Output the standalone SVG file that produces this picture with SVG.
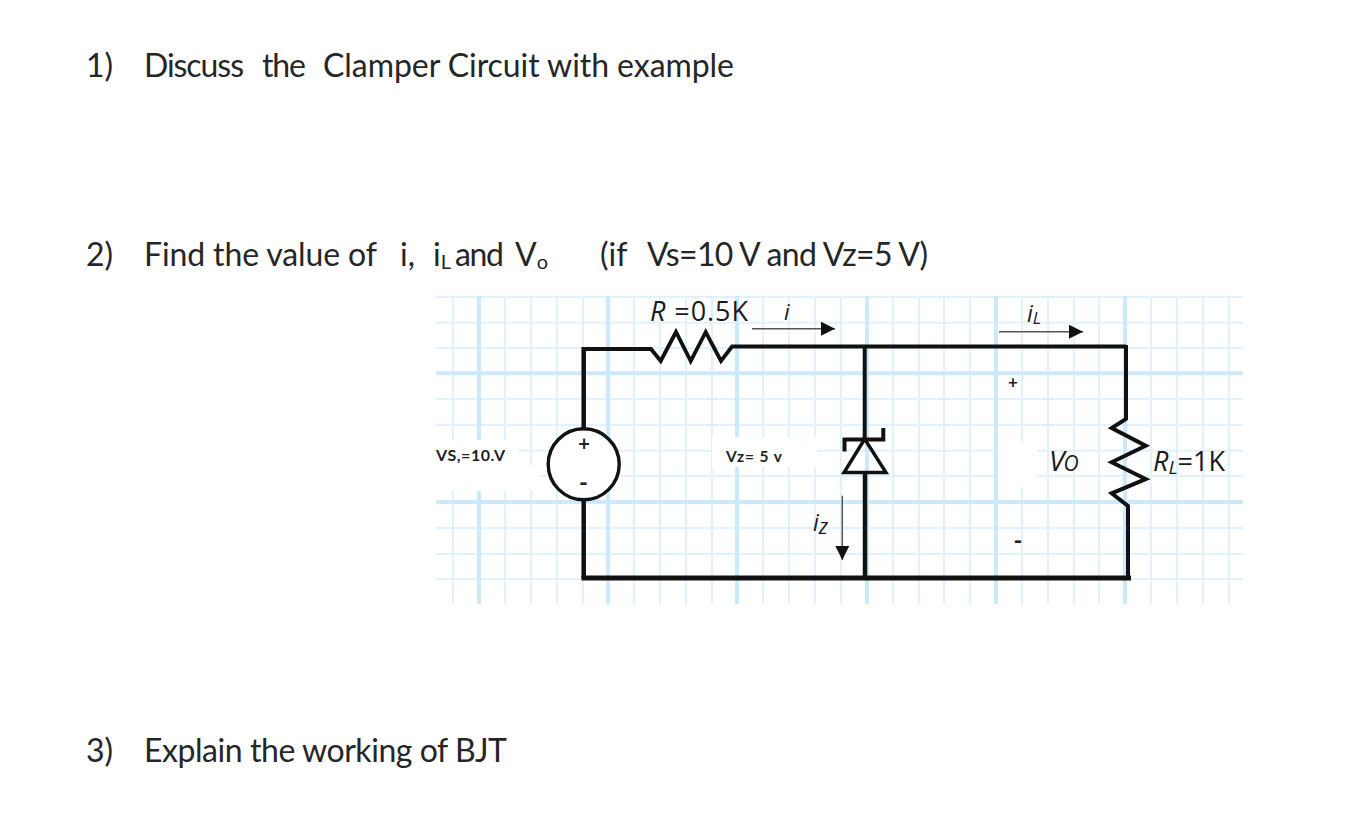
<svg xmlns="http://www.w3.org/2000/svg" width="1370" height="815" viewBox="0 0 1370 815">
<style>
.q{font-family:Lato,"Liberation Sans",sans-serif;font-size:32px;fill:#262626}
.c{font-family:"Open Sans","DejaVu Sans",sans-serif;fill:#1a1a1a}
.b{font-family:Lato,"Liberation Sans",sans-serif;font-weight:700;fill:#222}
.i{font-style:italic}
.g line{stroke:#dff2fd;stroke-width:2}
.t line{stroke:#cdeafd;stroke-width:4}
.w{fill:none;stroke:#111;stroke-linejoin:miter}
.a{stroke:#555;stroke-width:1.5;fill:none}
</style>
<defs>
<marker id="ah" markerUnits="userSpaceOnUse" markerWidth="14" markerHeight="14" refX="14" refY="7" orient="auto"><path d="M0 0L14 7L0 14Z" fill="#111"/></marker>
</defs>
<rect width="1370" height="815" fill="#fff"/>
<g id="questions">
<text class="q" x="86" y="77">1)</text>
<text class="q" x="144" y="77" textLength="100">Discuss</text>
<text class="q" x="262" y="77" textLength="44">the</text>
<text class="q" x="323" y="77" textLength="411">Clamper Circuit with example</text>
<text class="q" x="86" y="266">2)</text>
<text class="q" x="144" y="266" textLength="233">Find the value of</text>
<text class="q" x="400" y="266">i,</text>
<text class="q" x="433" y="266">i<tspan font-size="20" dy="3">L</tspan></text>
<text class="q" x="455" y="266" textLength="49">and</text>
<text class="q" x="515" y="266">V<tspan font-size="20" dy="3">o</tspan></text>
<text class="q" x="600" y="266">(if</text>
<text class="q" x="647" y="266" textLength="281">Vs=10 V and Vz=5 V)</text>
<text class="q" x="86" y="762">3)</text>
<text class="q" x="144" y="762" textLength="363">Explain the working of BJT</text>
</g>
<g id="grid">
<g class="g">
<line x1="436" x2="1243" y1="297" y2="297"/><line x1="436" x2="1243" y1="322.7" y2="322.7"/><line x1="436" x2="1243" y1="348" y2="348"/><line x1="436" x2="1243" y1="399" y2="399"/><line x1="436" x2="1243" y1="425" y2="425"/><line x1="436" x2="1243" y1="450.7" y2="450.7"/><line x1="436" x2="1243" y1="476" y2="476"/><line x1="436" x2="1243" y1="528" y2="528"/><line x1="436" x2="1243" y1="554" y2="554"/><line x1="436" x2="1243" y1="579" y2="579"/>
<line x1="453" x2="453" y1="296" y2="604"/><line x1="505" x2="505" y1="296" y2="604"/><line x1="531" x2="531" y1="296" y2="604"/><line x1="557" x2="557" y1="296" y2="604"/><line x1="583" x2="583" y1="296" y2="604"/><line x1="634" x2="634" y1="296" y2="604"/><line x1="660" x2="660" y1="296" y2="604"/><line x1="686" x2="686" y1="296" y2="604"/><line x1="712" x2="712" y1="296" y2="604"/><line x1="763" x2="763" y1="296" y2="604"/><line x1="789" x2="789" y1="296" y2="604"/><line x1="815" x2="815" y1="296" y2="604"/><line x1="841" x2="841" y1="296" y2="604"/><line x1="893" x2="893" y1="296" y2="604"/><line x1="919" x2="919" y1="296" y2="604"/><line x1="944" x2="944" y1="296" y2="604"/><line x1="970" x2="970" y1="296" y2="604"/><line x1="1022" x2="1022" y1="296" y2="604"/><line x1="1048" x2="1048" y1="296" y2="604"/><line x1="1074" x2="1074" y1="296" y2="604"/><line x1="1099" x2="1099" y1="296" y2="604"/><line x1="1151" x2="1151" y1="296" y2="604"/><line x1="1177" x2="1177" y1="296" y2="604"/><line x1="1203" x2="1203" y1="296" y2="604"/><line x1="1229" x2="1229" y1="296" y2="604"/>
</g>
<g class="t">
<line x1="436" x2="1243" y1="373.3" y2="373.3"/><line x1="436" x2="1243" y1="502" y2="502"/>
<line x1="479" x2="479" y1="296" y2="604"/><line x1="608" x2="608" y1="296" y2="604"/><line x1="737" x2="737" y1="296" y2="604"/><line x1="867" x2="867" y1="296" y2="604"/><line x1="996" x2="996" y1="296" y2="604"/><line x1="1125" x2="1125" y1="296" y2="604"/>
</g>
<path fill="#fff" d="M436 440H518V491H436ZM518 465H540V490H518ZM712 437H817V467H712ZM998 443H1037V487H998Z"/>
</g>
<g id="connectors">
<path class="w" stroke-width="3.8" d="M583.7 349H651L660.7 361L676 332L690.7 361L705.7 332L721 361L732 346.5H1126"/>
<path class="w" stroke-width="4" d="M1126 345V419L1111.7 428L1145.7 445.7L1111.7 462.3L1145.7 479L1111.7 493.3L1128 506V578"/>
<path class="w" stroke-width="4.5" d="M583.7 347V430M583.7 500V578"/>
<path class="w" stroke-width="4" d="M864.7 347V438"/>
<path class="w" stroke-width="4.5" d="M865 473V578"/>
<path class="w" stroke-width="5" d="M581.5 578H1131"/>
</g>
<g id="source">
<circle cx="583.7" cy="464.3" r="35.5" fill="#fff" stroke="#111" stroke-width="3.4"/>
<text class="b" x="584" y="451" font-size="20" text-anchor="middle">+</text>
<text class="b" x="583.5" y="491" font-size="24" text-anchor="middle">-</text>
<text class="b" x="436" y="461" font-size="16" textLength="69">VS,=10.V</text>
</g>
<g id="series-resistor">
<text class="c" x="650" y="320.5" font-size="27" textLength="98"><tspan class="i">R</tspan> =0.5K</text>
<text class="c i" x="784" y="320" font-size="22">i</text>
</g>
<g id="zener">
<path class="w" stroke-width="3.4" d="M864.7 439L844 472.5H886Z"/>
<path class="w" stroke-width="4" d="M844.5 451.5V439.5H883.3V428"/>
<text class="b" x="726" y="462" font-size="15.5" textLength="56">Vz= 5 v</text>
<text class="c i" x="813" y="531" font-size="23">i<tspan font-size="21" dy="3">z</tspan></text>
</g>
<g id="load">
<text class="c i" x="1049" y="471" font-size="28">V<tspan font-size="21" dx="-1">O</tspan></text>
<text class="c" x="1153" y="471" font-size="27" textLength="72"><tspan class="i">R</tspan><tspan class="i" font-size="19" dy="3">L</tspan><tspan dy="-3">=1K</tspan></text>
<text class="c i" x="1027" y="322" font-size="23">i<tspan font-size="17" dy="2">L</tspan></text>
<text class="b" x="1013" y="388" font-size="17" text-anchor="middle">+</text>
<text class="b" x="1018" y="549" font-size="24" text-anchor="middle">-</text>
</g>
<g id="current-arrows">
<line class="a" x1="752" y1="328.7" x2="835" y2="328.7" marker-end="url(#ah)"/>
<line class="a" x1="999" y1="331.7" x2="1083" y2="331.7" marker-end="url(#ah)"/>
<line class="a" x1="842.3" y1="495.7" x2="842.3" y2="560" marker-end="url(#ah)"/>
</g>
</svg>
